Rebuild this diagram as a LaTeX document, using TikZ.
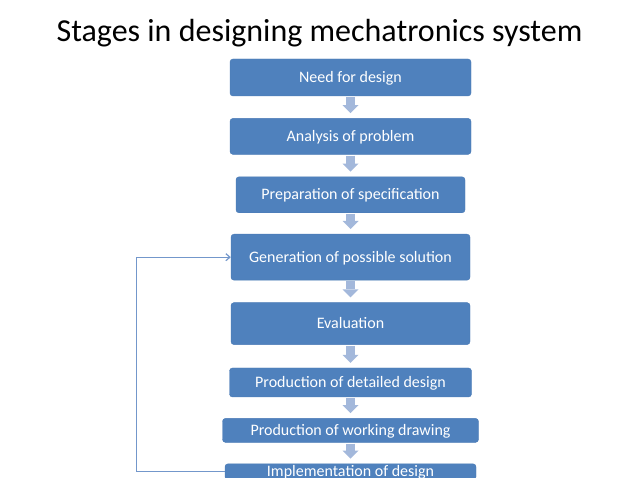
\documentclass[tikz,border=0pt]{standalone}
\usepackage{fontspec}
\setmainfont{Carlito}
\usetikzlibrary{positioning,arrows.meta}
\definecolor{stageblue}{HTML}{4F81BD}
\definecolor{stageedge}{HTML}{4A7AB5}
\definecolor{stepgray}{HTML}{A3B8DB}
\definecolor{loopblue}{HTML}{7397CB}
\begin{document}
\begin{tikzpicture}[x=1pt, y=-1pt, node distance=22pt,
	stage/.style={draw=stageedge, fill=stageblue, text=white, rounded corners=3pt, inner sep=0pt,
		font=\fontsize{16}{19}\selectfont, text height=10pt, text depth=0pt},
	down/.style={draw=stepgray, line width=9pt, shorten <=1pt, shorten >=5pt,
		-{Triangle[width=16pt, length=8pt, line width=0pt]}}]
	\useasboundingbox (0,0) rectangle (638,478);
	\node (title) [anchor=base, font=\fontsize{32}{38}\selectfont] at (319.5,42) {Stages in designing mechatronics system};
	\node (need) [stage, minimum width=241pt, minimum height=37pt] at (350.5,77.5) {Need for design};
	\node (analysis) [stage, below=of need, minimum width=241pt, minimum height=36pt] {Analysis of problem};
	\node (spec) [stage, below=of analysis, minimum width=229pt, minimum height=36pt] {Preparation of specification};
	\node (gen) [stage, below=21pt of spec, minimum width=239pt, minimum height=46pt] {Generation of possible solution};
	\node (eval) [stage, below=of gen, minimum width=239pt, minimum height=42pt] {Evaluation};
	\node (detail) [stage, below=23pt of eval, minimum width=242pt, minimum height=29pt] {Production of detailed design};
	\node (working) [stage, below=21pt of detail, minimum width=256pt, minimum height=24pt] {Production of working drawing};
	\node (impl) [stage, below=21pt of working, minimum width=251pt, minimum height=16pt] {Implementation of design};
	\draw[down] (need) -- (analysis);
	\draw[down] (analysis) -- (spec);
	\draw[down] (spec) -- (gen);
	\draw[down] (gen) -- (eval);
	\draw[down] (eval) -- (detail);
	\draw[down] (detail) -- (working);
	\draw[down] (working) -- (impl);
	\draw[loopblue, line width=1.2pt, -{Straight Barb[length=4pt, width=7pt]}] (impl.west) -- ++(-88,0) |- (gen.west);
\end{tikzpicture}
\end{document}
